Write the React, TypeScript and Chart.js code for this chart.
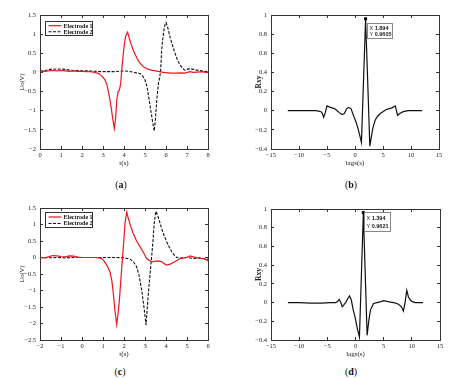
import React, { useEffect, useRef } from 'react';
import { Chart, registerables } from 'chart.js';
Chart.register(...registerables);

const SERIF = '"Liberation Serif", "Times New Roman", serif';
const SANS = '"Liberation Sans", Arial, sans-serif';

// ---------- Panel (a) ----------
const aRedX = [0, 0.2, 0.4, 0.6, 0.8, 1.0, 1.2, 1.4, 1.6, 1.8, 2.0, 2.2, 2.4, 2.6, 2.8, 2.9, 3.0, 3.1, 3.2, 3.3, 3.4, 3.46, 3.54, 3.6, 3.66, 3.72, 3.78, 3.84, 3.9, 3.96, 4.02, 4.08, 4.17, 4.25, 4.35, 4.44, 4.55, 4.65, 4.76, 4.9, 5.0, 5.16, 5.3, 5.5, 5.7, 5.87, 6.1, 6.3, 6.5, 6.7, 6.9, 7.14, 7.3, 7.5, 7.7, 7.94, 8.0];
const aRedY = [0.02, 0.03, 0.04, 0.05, 0.04, 0.05, 0.04, 0.03, 0.04, 0.03, 0.03, 0.02, 0.02, 0.0, -0.03, -0.07, -0.13, -0.2, -0.35, -0.62, -0.95, -1.2, -1.46, -1.2, -0.7, -0.5, -0.46, -0.3, 0.1, 0.45, 0.75, 0.95, 1.05, 0.9, 0.72, 0.58, 0.45, 0.34, 0.24, 0.16, 0.12, 0.08, 0.06, 0.04, 0.02, 0.0, -0.01, -0.02, -0.02, -0.01, -0.02, 0.02, 0.0, 0.01, 0.02, 0.0, 0.0];
const aBlkX = [0, 0.2, 0.4, 0.6, 0.8, 1.0, 1.2, 1.4, 1.6, 1.8, 2.0, 2.3, 2.6, 2.9, 3.2, 3.5, 3.8, 4.0, 4.2, 4.5, 4.7, 4.8, 4.9, 5.0, 5.1, 5.2, 5.28, 5.35, 5.44, 5.5, 5.56, 5.64, 5.71, 5.75, 5.79, 5.85, 5.9, 5.95, 6.0, 6.08, 6.19, 6.3, 6.43, 6.55, 6.67, 6.8, 6.9, 7.0, 7.14, 7.3, 7.46, 7.6, 7.8, 8.0];
const aBlkY = [0.03, 0.05, 0.07, 0.09, 0.08, 0.09, 0.08, 0.06, 0.05, 0.05, 0.04, 0.04, 0.03, 0.02, 0.02, 0.02, 0.03, 0.04, 0.03, 0.0, -0.02, -0.04, -0.1, -0.2, -0.38, -0.72, -1.0, -1.25, -1.53, -1.2, -0.72, -0.29, -0.1, 0.1, 0.58, 0.9, 1.1, 1.25, 1.3, 1.18, 0.93, 0.72, 0.5, 0.32, 0.19, 0.1, 0.06, 0.08, 0.1, 0.08, 0.06, 0.05, 0.03, 0.02];

// ---------- Panel (b) ----------
const bLagX = [-12, -10, -8, -7, -6.5, -6.07, -5.8, -5.6, -5.3, -5.0, -4.6, -4.1, -3.6, -3.2, -2.8, -2.33, -1.9, -1.5, -1.15, -0.7, -0.27, 0.2, 0.6, 0.9, 1.15, 1.894, 2.65, 2.9, 3.2, 3.6, 4.0, 4.5, 5.0, 5.5, 6.0, 6.6, 7.2, 7.6, 8.0, 8.6, 9.5, 10.5, 12];
const bRxy = [0, 0, 0, 0, -0.005, -0.01, -0.03, -0.07, -0.02, 0.05, 0.04, 0.03, 0.02, 0.0, -0.02, -0.04, -0.03, 0.02, 0.035, 0.02, -0.05, -0.12, -0.2, -0.27, -0.33, 0.9605, -0.37, -0.28, -0.18, -0.1, -0.06, -0.03, -0.01, 0.01, 0.02, 0.03, 0.05, -0.05, -0.03, -0.01, 0.0, 0.0, 0.0];
const bTipX = 1.894;
const bTipY = 0.9605;

// ---------- Panel (c) ----------
const cRedX = [-2, -1.8, -1.6, -1.4, -1.2, -1.0, -0.8, -0.6, -0.4, -0.2, 0, 0.3, 0.6, 0.9, 1.02, 1.15, 1.25, 1.33, 1.42, 1.49, 1.57, 1.65, 1.71, 1.78, 1.86, 1.97, 2.05, 2.13, 2.2, 2.3, 2.44, 2.6, 2.76, 2.9, 3.08, 3.2, 3.32, 3.45, 3.63, 3.8, 3.9, 4.03, 4.2, 4.35, 4.5, 4.67, 4.85, 4.98, 5.14, 5.3, 5.5, 5.7, 5.85, 6.0];
const cRedY = [0.0, -0.01, 0.02, 0.06, 0.05, 0.03, 0.02, 0.05, 0.04, 0.01, 0.0, 0.0, 0.0, -0.02, -0.08, -0.2, -0.32, -0.43, -0.7, -1.08, -1.6, -2.03, -1.75, -1.3, -0.58, 0.33, 1.04, 1.38, 1.2, 0.98, 0.73, 0.5, 0.33, 0.18, -0.03, -0.08, -0.13, -0.12, -0.1, -0.13, -0.18, -0.23, -0.2, -0.15, -0.1, -0.03, -0.01, 0.0, 0.05, 0.02, -0.01, -0.03, -0.05, -0.1];
const cBlkX = [-2, -1.6, -1.2, -0.8, -0.4, 0, 0.4, 0.8, 1.2, 1.6, 2.0, 2.29, 2.45, 2.6, 2.72, 2.84, 2.92, 2.97, 3.05, 3.1, 3.16, 3.22, 3.27, 3.32, 3.37, 3.44, 3.52, 3.6, 3.7, 3.79, 3.9, 4.03, 4.15, 4.27, 4.4, 4.51, 4.7, 5.0, 5.3, 5.6, 5.8, 6.0];
const cBlkY = [0.0, -0.01, 0.0, -0.01, 0.0, 0.0, 0.0, 0.0, 0.0, 0.0, -0.01, -0.05, -0.13, -0.28, -0.55, -0.98, -1.35, -1.6, -2.05, -1.6, -1.08, -0.65, -0.28, 0.05, 0.43, 1.04, 1.4, 1.28, 1.08, 0.88, 0.68, 0.48, 0.32, 0.18, 0.07, 0.0, -0.02, 0.0, -0.03, -0.01, -0.03, -0.05];

// ---------- Panel (d) ----------
const dLagX = [-12, -10, -8, -6, -4.5, -3.5, -3.2, -2.9, -2.6, -2.35, -2.0, -1.75, -1.4, -1.06, -0.75, -0.4, -0.1, 0.3, 0.7, 1.394, 2.06, 2.35, 2.65, 3.2, 3.8, 4.5, 5.0, 5.8, 6.75, 7.4, 7.9, 8.2, 8.5, 8.8, 9.1, 9.4, 9.7, 10.1, 10.6, 11.2, 12];
const dRxy = [0, 0, -0.005, -0.005, 0, 0.0, 0.01, 0.035, 0.0, -0.045, -0.02, 0.0, 0.04, 0.07, 0.03, -0.08, -0.15, -0.27, -0.37, 0.9621, -0.35, -0.2, -0.08, -0.01, 0.0, 0.01, 0.02, 0.01, 0.0, -0.01, -0.03, -0.05, -0.09, 0.0, 0.13, 0.06, 0.03, 0.01, 0.0, 0.0, 0.0];
const dTipX = 1.394;
const dTipY = 0.9621;

const legendNames = ['Electrode 1', 'Electrode 2'];
const RED = '#f0141e';
const BLACK = '#111111';
const FRAME = '#333333';

const zip = (xs: number[], ys: number[]) => xs.map((x, i) => ({ x, y: ys[i] }));
const fmt = (v: any) => {
  const r = Math.round(Number(v) * 1000) / 1000;
  return String(r).replace('-', '\u2212');
};

// legend box and data tip drawn inside the plot area
const overlayPlugin = {
  id: 'overlay',
  afterDraw(chart: any, _args: any, opts: any) {
    const ctx = chart.ctx;
    const a = chart.chartArea;
    const xs = chart.scales.x;
    const ys = chart.scales.y;
    ctx.save();
    ctx.setLineDash([]);
    if (opts && opts.legend) {
      const lg = opts.legend;
      const bx = Math.round(a.left + lg.dx) + 0.5;
      const by = Math.round(a.top + lg.dy) + 0.5;
      ctx.fillStyle = '#fff';
      ctx.fillRect(bx, by, lg.w, lg.h);
      ctx.strokeStyle = FRAME;
      ctx.lineWidth = 1;
      ctx.strokeRect(bx, by, lg.w, lg.h);
      const ds = chart.data.datasets;
      ds.forEach((d: any, i: number) => {
        const ry = by + lg.h * (i === 0 ? 0.3 : 0.73);
        ctx.beginPath();
        ctx.strokeStyle = d.borderColor;
        ctx.lineWidth = d.borderWidth;
        ctx.setLineDash(d.borderDash || []);
        ctx.moveTo(bx + 3, ry);
        ctx.lineTo(bx + 16, ry);
        ctx.stroke();
        ctx.setLineDash([]);
        ctx.fillStyle = '#111';
        ctx.font = `bold 6px ${SERIF}`;
        ctx.textBaseline = 'middle';
        ctx.textAlign = 'left';
        ctx.fillText(d.label, bx + 18, ry + 0.5);
      });
    }
    if (opts && opts.tip) {
      const tp = opts.tip;
      const px = xs.getPixelForValue(tp.x);
      const py = ys.getPixelForValue(tp.y);
      ctx.fillStyle = '#000';
      ctx.fillRect(px - 1.5, py - 1.5, 3, 3);
      const bx = Math.round(px + tp.dx) + 0.5;
      const by = Math.round(py + tp.dy) + 0.5;
      ctx.fillStyle = 'rgba(255,255,255,0.95)';
      ctx.fillRect(bx, by, tp.w, tp.h);
      ctx.strokeStyle = '#888';
      ctx.lineWidth = 1;
      ctx.strokeRect(bx, by, tp.w, tp.h);
      ctx.textBaseline = 'middle';
      ctx.textAlign = 'left';
      const rows = [['X ', String(tp.x)], ['Y ', String(tp.y)]];
      rows.forEach((r, i) => {
        const ty = by + tp.h * (i === 0 ? 0.3 : 0.72);
        ctx.fillStyle = '#222';
        ctx.font = `5.5px ${SANS}`;
        ctx.fillText(r[0], bx + 2, ty);
        const w = ctx.measureText(r[0]).width;
        ctx.font = `bold 5.5px ${SANS}`;
        ctx.fillText(r[1], bx + 2 + w, ty);
      });
    }
    ctx.restore();
  },
};

type DS = { label: string; x: number[]; y: number[]; color: string; width: number; dash?: number[] };
type PanelProps = {
  left: number; top: number; w: number; h: number;
  pl: number; pt: number; pr: number; pb: number;
  xMin: number; xMax: number; xStep: number;
  yMin: number; yMax: number; yStep: number;
  xTitle: string; yTitle: string; yTitleBold?: boolean; yTitleSize: number; yTitlePad: number; xTitlePad: number;
  datasets: DS[];
  legend?: any; tip?: any;
};

const TL = -3; // inward tick marks
const gridOpts = { display: true, drawOnChartArea: false, drawTicks: true, tickLength: TL, color: FRAME, lineWidth: 1 };
const borderOpts = { display: true, color: FRAME, width: 1 };

function Panel(p: PanelProps) {
  const ref = useRef<HTMLCanvasElement>(null);
  useEffect(() => {
    if (!ref.current) return;
    const tickFont = { family: SERIF, size: 6.5 };
    const chart = new Chart(ref.current, {
      type: 'line',
      data: {
        datasets: p.datasets.map((d) => ({
          label: d.label,
          data: zip(d.x, d.y),
          xAxisID: 'x',
          yAxisID: 'y',
          borderColor: d.color,
          backgroundColor: d.color,
          borderWidth: d.width,
          borderDash: d.dash || [],
          pointRadius: 0,
          tension: 0,
          fill: false,
        })),
      },
      options: {
        responsive: false,
        animation: false,
        devicePixelRatio: 1,
        layout: { padding: { left: 0, top: p.pt, right: p.w - p.pr, bottom: 0 } },
        plugins: {
          legend: { display: false },
          tooltip: { enabled: false },
          overlay: { legend: p.legend, tip: p.tip },
        } as any,
        scales: {
          x: {
            type: 'linear', position: 'bottom',
            min: p.xMin, max: p.xMax,
            ticks: { stepSize: p.xStep, callback: fmt, font: tickFont, color: '#222', padding: 2 - TL, maxRotation: 0, autoSkip: false },
            grid: gridOpts,
            border: borderOpts,
            title: { display: true, text: p.xTitle, font: { family: SERIF, size: 7 }, color: '#222', padding: { top: 0, bottom: p.xTitlePad } },
            afterFit: (s: any) => { s.height = p.h - p.pb; },
          },
          y: {
            type: 'linear', position: 'left',
            min: p.yMin, max: p.yMax,
            ticks: { stepSize: p.yStep, callback: fmt, font: tickFont, color: '#222', padding: 4 - TL, autoSkip: false },
            grid: gridOpts,
            border: borderOpts,
            title: { display: true, text: p.yTitle, font: { family: SERIF, size: p.yTitleSize, weight: p.yTitleBold ? 'bold' : 'normal' }, color: '#222', padding: { top: p.yTitlePad, bottom: 0 } },
            afterFit: (s: any) => { s.width = p.pl; },
          },
          x2: {
            type: 'linear', position: 'top',
            min: p.xMin, max: p.xMax,
            ticks: { stepSize: p.xStep, display: false, autoSkip: false },
            grid: gridOpts,
            border: borderOpts,
            afterFit: (s: any) => { s.height = 0; },
          },
          y2: {
            type: 'linear', position: 'right',
            min: p.yMin, max: p.yMax,
            ticks: { stepSize: p.yStep, display: false, autoSkip: false },
            grid: gridOpts,
            border: borderOpts,
            afterFit: (s: any) => { s.width = 0; },
          },
        },
      } as any,
      plugins: [overlayPlugin as any],
    });
    return () => chart.destroy();
  }, []);
  return (
    <canvas
      ref={ref}
      width={p.w}
      height={p.h}
      style={{ position: 'absolute', left: p.left, top: p.top, width: p.w, height: p.h }}
    />
  );
}

function Label({ x, y, letter }: { x: number; y: number; letter: string }) {
  return (
    <div style={{ position: 'absolute', left: x, top: y, transform: 'translate(-50%, -50%)', fontFamily: SERIF, fontSize: 10, color: '#111', whiteSpace: 'nowrap', lineHeight: 1 }}>
      (<b>{letter}</b>)
    </div>
  );
}

export default function App() {
  return (
    <div style={{ position: 'absolute', left: 0, top: 0, width: 474, height: 378, background: '#fff', overflow: 'hidden' }}>
      <Panel
        left={0} top={0} w={237} h={175}
        pl={40} pt={15} pr={208} pb={149}
        xMin={0} xMax={8} xStep={1} yMin={-2} yMax={1.5} yStep={0.5}
        xTitle="t(s)" yTitle="Uo(V)" yTitleSize={6.5} yTitlePad={18} xTitlePad={8}
        datasets={[
          { label: legendNames[0], x: aRedX, y: aRedY, color: RED, width: 1.2 },
          { label: legendNames[1], x: aBlkX, y: aBlkY, color: BLACK, width: 1.1, dash: [3, 1.5] },
        ]}
        legend={{ dx: 4.5, dy: 5.5, w: 47, h: 14 }}
      />
      <Panel
        left={237} top={0} w={237} h={175}
        pl={34} pt={15} pr={202} pb={149}
        xMin={-15} xMax={15} xStep={5} yMin={-0.4} yMax={1} yStep={0.2}
        xTitle="lags(s)" yTitle="Rxy" yTitleBold yTitleSize={7.5} yTitlePad={18} xTitlePad={8}
        datasets={[{ label: 'Rxy', x: bLagX, y: bRxy, color: BLACK, width: 1.2 }]}
        tip={{ x: bTipX, y: bTipY, dx: 1.5, dy: 4.5, w: 25, h: 15 }}
      />
      <Panel
        left={0} top={190} w={237} h={175}
        pl={40} pt={18} pr={208} pb={150}
        xMin={-2} xMax={6} xStep={1} yMin={-2.5} yMax={1.5} yStep={0.5}
        xTitle="t(s)" yTitle="Uo(V)" yTitleSize={6.5} yTitlePad={18} xTitlePad={7}
        datasets={[
          { label: legendNames[0], x: cRedX, y: cRedY, color: RED, width: 1.2 },
          { label: legendNames[1], x: cBlkX, y: cBlkY, color: BLACK, width: 1.1, dash: [3, 1.5] },
        ]}
        legend={{ dx: 4.5, dy: 3.5, w: 47, h: 15 }}
      />
      <Panel
        left={237} top={190} w={237} h={175}
        pl={34} pt={19} pr={203} pb={150}
        xMin={-15} xMax={15} xStep={5} yMin={-0.4} yMax={1} yStep={0.2}
        xTitle="lags(s)" yTitle="Rxy" yTitleBold yTitleSize={7.5} yTitlePad={18} xTitlePad={7}
        datasets={[{ label: 'Rxy', x: dLagX, y: dRxy, color: BLACK, width: 1.2 }]}
        tip={{ x: dTipX, y: dTipY, dx: 1, dy: -0.5, w: 26, h: 19 }}
      />
      <Label x={121} y={185} letter="a" />
      <Label x={351} y={185} letter="b" />
      <Label x={120} y={372} letter="c" />
      <Label x={351} y={372} letter="d" />
    </div>
  );
}
